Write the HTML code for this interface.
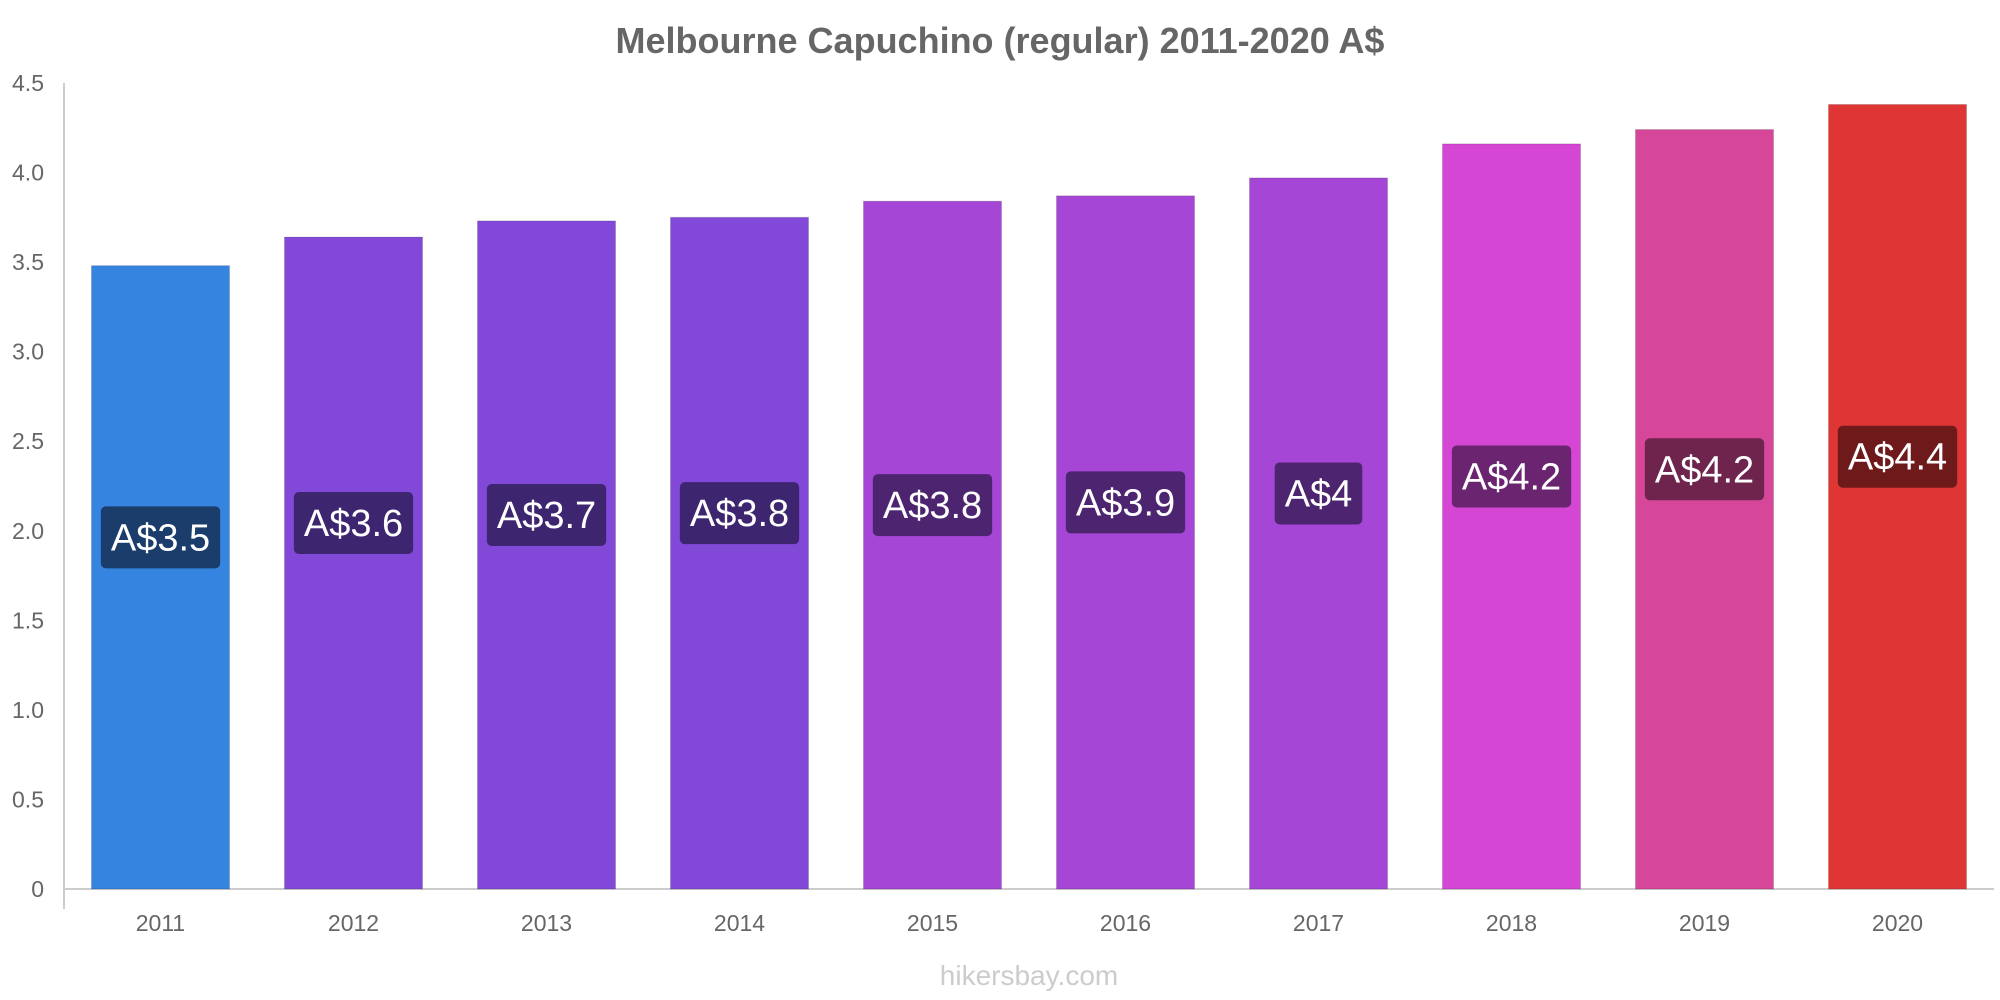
<!DOCTYPE html>
<html><head><meta charset="utf-8"><style>
html,body{margin:0;padding:0;background:#fff;width:2000px;height:1000px;overflow:hidden}
svg{display:block;font-family:"Liberation Sans",sans-serif}
</style></head><body>
<svg id="chart" width="2000" height="1000">
<text x="1000" y="53" text-anchor="middle" font-size="36" font-weight="bold" fill="#666">Melbourne Capuchino (regular) 2011-2020 A$</text>
<g id="axes"></g><g id="bars"></g>
<text x="1029" y="985" text-anchor="middle" font-size="28" fill="#ccc">hikersbay.com</text>
</svg>
<script>
const categories=["2011","2012","2013","2014","2015","2016","2017","2018","2019","2020"];
const values=[3.48,3.64,3.73,3.75,3.84,3.87,3.97,4.16,4.24,4.38];
const labels=["A$3.5","A$3.6","A$3.7","A$3.8","A$3.8","A$3.9","A$4","A$4.2","A$4.2","A$4.4"];
const yTicks=[0,0.5,1,1.5,2,2.5,3,3.5,4,4.5];
const yTickLabels=["0","0.5","1.0","1.5","2.0","2.5","3.0","3.5","4.0","4.5"];
const barColors=["#3584e0","#8249d9","#8249d9","#8249d9","#a646d6","#a646d6","#a646d6","#d446d3","#d64699","#e03535"];
const boxColors=["#1a3d6b","#3d2570","#3d2570","#3d2570","#4c2470","#4c2470","#4c2470","#6a2470","#6e244d","#6e1a1a"];
const NS="http://www.w3.org/2000/svg";
const x0=64,x1=1994,yB=889,yT=83,maxV=4.5;
const y=v=>yB-(v/maxV)*(yB-yT);
const band=(x1-x0)/categories.length;
const xc=i=>x0+band*(i+0.5);
function mk(t,a,p){const e=document.createElementNS(NS,t);for(const k in a)e.setAttribute(k,a[k]);p.appendChild(e);return e;}
const ax=document.getElementById('axes'),bg=document.getElementById('bars');
const yl=mk('line',{x1:x0,x2:x0,y1:yT,y2:yB+20,stroke:'#ccc','stroke-width':2},ax);


const xl=mk('line',{x1:x0,x2:x1,y1:yB,y2:yB,stroke:'#ccc','stroke-width':2},ax);


yTicks.forEach((v,i)=>{
 const t=mk('text',{x:x0-20,y:y(v)+8,'text-anchor':'end','font-size':23,fill:'#666'},ax);
 t.textContent=yTickLabels[i];
 
 
});
categories.forEach((c,i)=>{
 const w=band*0.715,top=y(values[i]);
 const r=mk('rect',{x:xc(i)-w/2,y:top,width:w,height:yB-top,fill:barColors[i],stroke:'rgba(0,0,0,0.15)','stroke-width':1},bg);
 
 
 const t=mk('text',{x:xc(i),y:yB+42,'text-anchor':'middle','font-size':23,fill:'#666'},ax);
 t.textContent=c;
 
 
 const cy=(top+yB)/2-40;
 const lt=mk('text',{x:xc(i),y:cy+13,'text-anchor':'middle','font-size':38,fill:'#fff'},bg);
 lt.textContent=labels[i];
 const bw=lt.getComputedTextLength()+20;
 const box=mk('rect',{x:xc(i)-bw/2,y:cy-31,width:bw,height:62,rx:5,fill:boxColors[i]},bg);
 bg.insertBefore(box,lt);
 
 
 
 
});
</script>
</body></html>
